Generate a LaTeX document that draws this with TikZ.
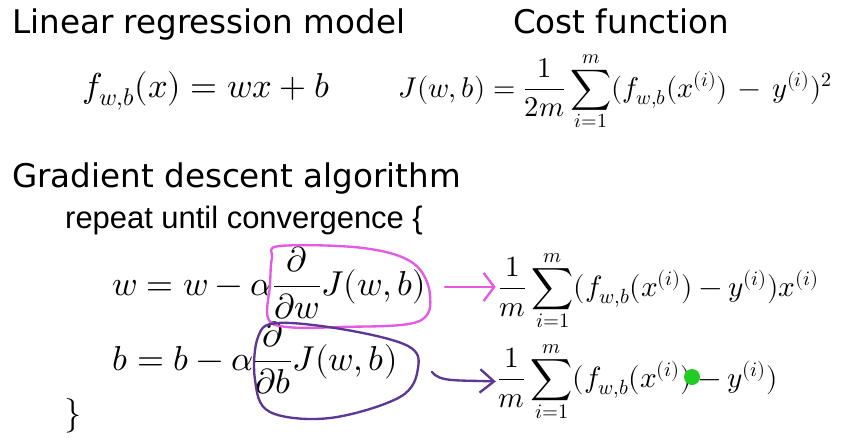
\documentclass[tikz,border=0pt]{standalone}
\usepackage{amsmath}
\usepackage{fontspec}
\usepackage{unicode-math}
\newfontfamily\headfont{DejaVu Sans}
\newfontfamily\notefont{Liberation Sans}
\usetikzlibrary{arrows.meta,positioning}
\definecolor{penpink}{RGB}{228,90,226}
\definecolor{penpurple}{RGB}{92,56,148}
\definecolor{dotgreen}{RGB}{34,204,34}

\tikzset{
  heading/.style={anchor=base west, inner sep=0pt, font=\headfont\fontsize{27.8}{33}\selectfont},
  note/.style={anchor=base west, inner sep=0pt, font=\notefont\fontsize{26.4}{31}\selectfont},
  formula/.style={anchor=base west, inner sep=0pt, font=\fontsize{29.5}{35}\selectfont},
  sumformula/.style={anchor=base west, inner sep=0pt, font=\fontsize{25}{30}\selectfont},
  pinkpen/.style={draw=penpink, line width=2pt, line cap=round, line join=round},
  purplepen/.style={draw=penpurple, line width=2pt, line cap=round, line join=round},
}

\begin{document}
\begin{tikzpicture}[x=0.03cm, y=-0.03cm]
  \fill[white] (0,0) rectangle (843,444);
  \useasboundingbox (0,0) rectangle (843,444);

  % model and cost
  \node[heading] (model) at (12,33) {Linear regression model};
  \node[heading] (cost) at (513,33) {Cost function};
  \node[formula] (fwb) at (82,97) {$f_{w,b}(x) = wx + b$};
  \node[sumformula, font=\fontsize{24.4}{29}\selectfont] (jwb) at (398,97) {$\displaystyle J(w,b) = \frac{1}{2m}\sum_{i=1}^{m}(f_{w,b}(x^{(i)}) \,-\, y^{(i)})^2$};

  % gradient descent
  \node[heading] (gd) at (12,187) {Gradient descent algorithm};
  \node[note] (repeat) at (65,228) {repeat until convergence \{};

  \node[formula] (wlhs) at (112,295) {$w = w - \alpha$};
  \node[formula] (dw) at (wlhs.base east) {$\displaystyle\frac{\partial}{\partial w}J(w,b)$};
  \node[formula] (blhs) at (112,370) {$b = b - \alpha$};
  \node[formula] (db) at (blhs.base east) {$\displaystyle\frac{\partial}{\partial b}J(w,b)$};
  \node[formula] (close) at (64,424) {$\}$};

  \node[sumformula] (wgrad) at (498,296) {$\displaystyle\frac{1}{m}\sum_{i=1}^{m}(f_{w,b}(x^{(i)}) - y^{(i)})x^{(i)}$};
  \node[sumformula] (bgrad) at (497,387) {$\displaystyle\frac{1}{m}\sum_{i=1}^{m}(f_{w,b}(x^{(i)}) - y^{(i)})$};

  % hand drawn loops
  \draw[pinkpen] plot[smooth cycle, tension=0.6] coordinates {
    (280,246) (363,248) (413,263) (430,295) (417,322) (340,327) (287,327) (268,318) (270,285) (272,258)};
  \draw[purplepen] plot[smooth cycle, tension=0.6] coordinates {
    (278,323) (347,330) (408,346) (418,368) (400,397) (330,418) (270,412) (255,380) (258,337)};

  \coordinate (pinkout) at (445,287);
  \coordinate (purpleout) at (432,372);
  \draw[pinkpen, -{Straight Barb[length=9pt,width=24pt]}] (pinkout) -- ([xshift=-2pt]wgrad.west |- pinkout);
  \draw[purplepen, -{Straight Barb[length=12pt,width=20pt]}] (purpleout) .. controls (440,382) and (455,380) .. ([xshift=-1pt]bgrad.west);

  \fill[dotgreen] (692,377) circle (8);
\end{tikzpicture}
\end{document}
